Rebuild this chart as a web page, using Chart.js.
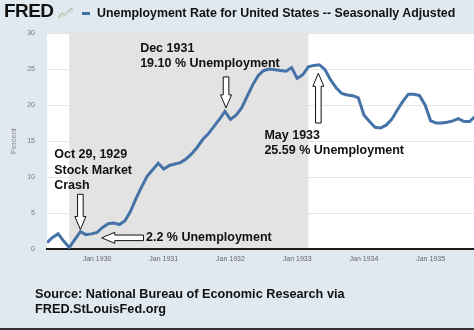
<!DOCTYPE html>
<html>
<head>
<meta charset="utf-8">
<script src="https://cdn.jsdelivr.net/npm/chart.js@4"></script>
<style>
	html, body { margin: 0; padding: 0; }
	body { width: 474px; height: 330px; background: #e1e9f0; position: relative; overflow: hidden; font-family: 'Liberation Sans', Arial, sans-serif; }
	canvas { position: absolute; left: 0; top: 0; }
	.logo { position: absolute; left: 4px; top: 0px; font-size: 19px; font-weight: bold; letter-spacing: -0.6px; color: #111; }
	.icon { position: absolute; left: 57px; top: 7px; }
	.dash { position: absolute; left: 82px; top: 12px; width: 8px; height: 3px; background: #4572a7; }
	.title { position: absolute; left: 97px; top: 6px; font-size: 12.4px; font-weight: bold; color: #111; white-space: nowrap; }
	.source { position: absolute; left: 35px; top: 287px; font-size: 12.7px; font-weight: bold; color: #111; line-height: 15px; }
	.frame { position: absolute; left: 0; top: 328px; width: 474px; height: 2px; background: #333; }
</style>
</head>
<body>
<canvas class="unemployment-chart" width="474" height="330"></canvas>
<div class="logo">FRED</div>
<svg class="icon" width="18" height="12"><polyline points="1,11 5,6 8,8 12,3 16,1" fill="none" stroke="#b9c4b0" stroke-width="1.5"/><polyline points="1,11 6,9 10,5 16,5" fill="none" stroke="#c8cfc4" stroke-width="1"/></svg>
<div class="dash"></div>
<div class="title">Unemployment Rate for United States -- Seasonally Adjusted</div>
<div class="source">Source: National Bureau of Economic Research via<br>FRED.StLouisFed.org</div>
<div class="frame"></div>
<script>
// monthly series, starts Apr 1929
let monthNames = ['Jan', 'Feb', 'Mar', 'Apr', 'May', 'Jun', 'Jul', 'Aug', 'Sep', 'Oct', 'Nov', 'Dec']
let rate1929 = [0.9, 1.6, 2.1, 1.1, 0.2, 1.3, 2.4, 2.0, 2.1]
let rate1930 = [2.3, 3.0, 3.5, 3.6, 3.4, 3.9, 5.2, 7.0, 8.6, 10.1, 11.0, 11.9]
let rate1931 = [11.1, 11.6, 11.8, 12.0, 12.5, 13.2, 14.1, 15.2, 16.0, 17.0, 18.0, 19.1]
let rate1932 = [18.0, 18.6, 19.6, 21.2, 22.8, 24.1, 24.8, 25.0, 24.9, 24.8, 24.7, 25.2]
let rate1933 = [23.7, 24.2, 25.3, 25.5, 25.59, 24.9, 23.5, 22.4, 21.6, 21.4, 21.3, 21.0]
let rate1934 = [18.6, 17.7, 16.9, 16.8, 17.2, 18.0, 19.3, 20.5, 21.5, 21.5, 21.3, 20.0]
let rate1935 = [17.8, 17.5, 17.5, 17.6, 17.8, 18.1, 17.7, 17.7, 18.4]
let rate = [].concat(rate1929, rate1930, rate1931, rate1932, rate1933, rate1934, rate1935)

let months = []
for (let i = 0; i < rate.length; i++) {
	let m = i + 3
	months.push(monthNames[m % 12] + ' ' + (1929 + Math.floor(m / 12)))
}
let tickLabels = ['Jan 1930', 'Jan 1931', 'Jan 1932', 'Jan 1933', 'Jan 1934', 'Jan 1935']
let yTicks = [0, 5, 10, 15, 20, 25, 30]

// recession: Aug 1929 - Mar 1933
let recession = ['Aug 1929', 'Mar 1933']

// [month, value, month offset]
let notes = [
	{ lines: ['Dec 1931', '19.10 % Unemployment'], at: ['Aug 1930', 27.4, 0.75] },
	{ lines: ['Oct 29, 1929', 'Stock Market', 'Crash'], at: ['Apr 1929', 12.6, 1.3] },
	{ lines: ['2.2 % Unemployment'], at: ['Sep 1930', 1.05, 0.8] },
	{ lines: ['May 1933', '25.59 % Unemployment'], at: ['Jul 1932', 15.3, 0.1] },
]
let arrows = [
	{ from: ['Dec 1931', 23.9, 0.2], to: ['Dec 1931', 19.6, 0.2] },
	{ from: ['Oct 1929', 7.6, 0], to: ['Oct 1929', 2.7, 0] },
	{ from: ['Sep 1930', 1.55, 0.35], to: ['Jan 1930', 1.55, 0.85] },
	{ from: ['May 1933', 17.5, -0.2], to: ['May 1933', 24.4, -0.2] },
]

let canvas = document.querySelector('.unemployment-chart')
let idx = (label) => months.indexOf(label)

let backdrop = {
	id: 'backdrop',
	beforeDraw(chart) {
		let { ctx, chartArea } = chart
		ctx.save()
		ctx.fillStyle = '#ffffff'
		ctx.fillRect(chartArea.left, chartArea.top, chartArea.right - chartArea.left, chartArea.bottom - chartArea.top)
		ctx.restore()
	},
	beforeDatasetsDraw(chart) {
		let { ctx, chartArea, scales } = chart
		let x0 = scales.x.getPixelForValue(idx(recession[0]))
		let x1 = scales.x.getPixelForValue(idx(recession[1]))
		ctx.save()
		ctx.fillStyle = '#e3e3e3'
		ctx.fillRect(x0, chartArea.top, x1 - x0, chartArea.bottom - chartArea.top - 1)
		ctx.restore()
	},
}

let annotations = {
	id: 'annotations',
	afterDatasetsDraw(chart) {
		let { ctx, scales } = chart
		let px = (p) => scales.x.getPixelForValue(idx(p[0]) + p[2])
		let py = (p) => scales.y.getPixelForValue(p[1])
		ctx.save()
		ctx.lineWidth = 1
		ctx.strokeStyle = '#111'
		ctx.fillStyle = '#ffffff'
		for (let a of arrows) {
			let x1 = px(a.from), y1 = py(a.from)
			let x2 = px(a.to), y2 = py(a.to)
			let len = Math.hypot(x2 - x1, y2 - y1)
			let ux = (x2 - x1) / len, uy = (y2 - y1) / len
			let nx = -uy, ny = ux
			let head = 13, sw = 2.8, hw = 5.5
			let bx = x2 - ux * head, by = y2 - uy * head
			ctx.beginPath()
			ctx.moveTo(x1 + nx * sw, y1 + ny * sw)
			ctx.lineTo(bx + nx * sw, by + ny * sw)
			ctx.lineTo(bx + nx * hw, by + ny * hw)
			ctx.lineTo(x2, y2)
			ctx.lineTo(bx - nx * hw, by - ny * hw)
			ctx.lineTo(bx - nx * sw, by - ny * sw)
			ctx.lineTo(x1 - nx * sw, y1 - ny * sw)
			ctx.closePath()
			ctx.fill()
			ctx.stroke()
		}
		ctx.fillStyle = '#111'
		ctx.font = 'bold 12.5px "Liberation Sans", Arial, sans-serif'
		ctx.textBaseline = 'alphabetic'
		for (let n of notes) {
			let x = px(n.at)
			let y = py(n.at)
			n.lines.forEach((t, i) => ctx.fillText(t, x, y + i * 15.5))
		}
		ctx.restore()
	},
}

let data = {
	datasets: [
		{
			data: rate.map((v, i) => ({ x: i, y: v })),
			borderColor: '#4572a7',
			borderWidth: 3,
			pointRadius: 0,
			tension: 0,
		},
	],
}

let options = {
	responsive: false,
	animation: false,
	layout: { padding: { top: 33, right: 0, bottom: 61, left: 0 } },
	scales: {
		x: {
			type: 'linear',
			min: 0,
			max: 76.8,
			grid: { display: false, drawTicks: false },
			border: { display: true, color: '#1a1a1a', width: 2 },
			afterFit: (s) => { s.height = 20 },
			afterBuildTicks: (s) => { s.ticks = tickLabels.map((t) => ({ value: idx(t) })) },
			ticks: {
				padding: 6,
				color: '#666',
				font: { family: 'Liberation Sans', size: 7 },
				maxRotation: 0,
				callback: (v) => months[v],
			},
		},
		y: {
			min: 0,
			max: 30,
			grid: { color: '#e6e6e6', drawTicks: false },
			border: { display: false },
			afterFit: (s) => { s.width = 47 },
			afterBuildTicks: (s) => { s.ticks = yTicks.map((v) => ({ value: v })) },
			ticks: {
				padding: 12,
				color: '#777',
				font: { family: 'Liberation Sans', size: 7 },
			},
			title: {
				display: true,
				text: 'Percent',
				color: '#888',
				font: { family: 'Liberation Sans', size: 7.5 },
				padding: { top: 9, bottom: 0 },
			},
		},
	},
	plugins: {
		legend: { display: false },
		tooltip: { enabled: false },
	},
}

let chart = new Chart(canvas, {
	type: 'line',
	data: data,
	options: options,
	plugins: [backdrop, annotations],
})
</script>
</body>
</html>
